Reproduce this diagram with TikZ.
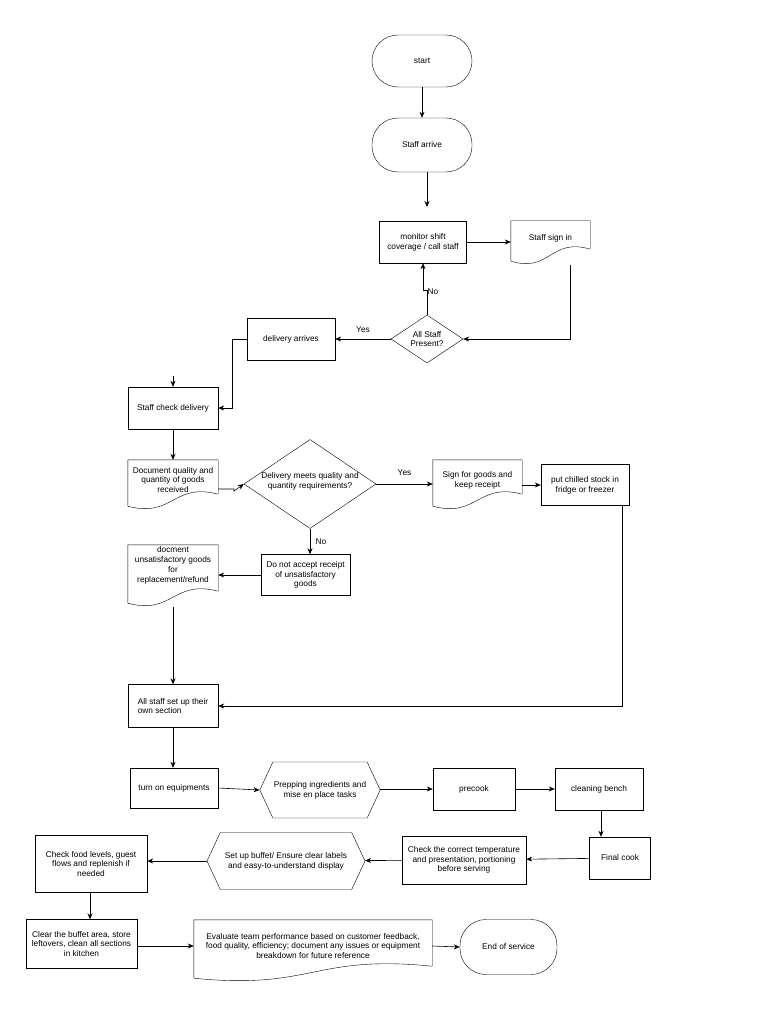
\documentclass[tikz,border=0pt]{standalone}
\usepackage{fontspec}
\setmainfont{Liberation Sans}
\usetikzlibrary{shapes.geometric,shapes.symbols,arrows.meta,calc}
\newcommand\docoutline[1]{%
  \draw ($(#1.south east)+(0,-6)$) -- (#1.north east) -- (#1.north west) -- ($(#1.south west)+(0,6)$)
   .. controls ($(#1.south)+(0,18)$) and ($(#1.south)+(0,-18)$) .. ($(#1.south east)+(0,-6)$);}
\begin{document}
\begin{tikzpicture}[x=1pt,y=-1pt,
  every node/.style={font=\fontsize{8.3}{9.8}\selectfont},
  box/.style={draw,rectangle,align=center,inner sep=2pt},
  pill/.style={draw,rectangle,rounded corners=26pt,align=center},
  doc/.style={rectangle,align=center,inner sep=1pt},
  hex/.style={draw,signal,signal to=east and west,signal pointer angle=130,align=center,inner sep=1pt},
  arr/.style={-{Stealth[length=6pt,width=5pt]},line width=0.6pt},
  lbl/.style={font=\fontsize{8.3}{9.8}\selectfont}]
\useasboundingbox (0,0) rectangle (768,1024);
\node[pill,minimum width=100,minimum height=52] (start) at (422,61) {start};
\node[pill,minimum width=100,minimum height=54] (arrive) at (422,145) {Staff arrive};
\node[box,minimum width=87,minimum height=42] (mon) at (423,242) {monitor shift\\coverage / call staff};
\node[doc,minimum width=79,minimum height=34] (sign) at (550.5,238) {Staff sign in};
\node[draw,diamond,minimum width=72,minimum height=48,inner sep=0pt] (d1) at (427,339) {};
\node[align=center] at (427,339) {All Staff\\Present?};
\node[box,minimum width=88,minimum height=42] (deliv) at (291,339) {delivery arrives};
\node[box,minimum width=90,minimum height=42] (check) at (173,408) {Staff check delivery};
\coordinate (chk0) at (173,376);
\node[doc,minimum width=90,minimum height=40] (docq) at (173,480) {Document quality and\\quantity of goods\\received};
\node[draw,diamond,minimum width=132,minimum height=89,inner sep=0pt] (d2) at (310,484) {};
\node[align=center] at (310,481) {Delivery meets quality and\\quantity requirements?};
\node[doc,minimum width=89,minimum height=40] (signg) at (477.5,480) {Sign for goods and\\keep receipt};
\node[box,minimum width=88,minimum height=41] (chill) at (585,485) {put chilled stock in\\fridge or freezer};
\node[box,minimum width=89,minimum height=41] (notacc) at (305.5,575) {Do not accept receipt\\of unsatisfactory\\goods};
\node[doc,minimum width=90,minimum height=52] (docm) at (173,571) {docment\\unsatisfactory goods\\for\\replacement/refund\\[3pt]};
\node[box,minimum width=90,minimum height=43,align=left] (setup) at (173,706) {All staff set up their\\own section};
\node[box,minimum width=88,minimum height=40] (turn) at (174,788) {turn on equipments};
\node[hex,minimum width=115,minimum height=56] (prep) at (320,790) {Prepping ingredients and\\mise en place tasks};
\node[box,minimum width=82,minimum height=42] (pre) at (474,789) {precook};
\node[box,minimum width=88,minimum height=42] (clean) at (599,789) {cleaning bench};
\node[box,minimum width=61,minimum height=42] (final) at (620,858) {Final cook};
\node[box,minimum width=124,minimum height=48] (temp) at (464,860) {Check the correct temperature\\and presentation, portioning\\before serving};
\node[hex,minimum width=158,minimum height=57] (buffet) at (286,861) {Set up buffet/ Ensure clear labels\\and easy-to-understand display};
\node[box,minimum width=112,minimum height=57] (food) at (91,864) {Check food levels, guest\\flows and replenish if\\needed};
\node[box,minimum width=111,minimum height=49] (clear) at (81.5,944) {Clear the buffet area, store\\leftovers, clean all sections\\in kitchen};
\node[doc,minimum width=238,minimum height=52] (eval) at (313,946) {Evaluate team performance based on customer feedback,\\food quality, efficiency; document any issues or equipment\\breakdown for future reference};
\node[pill,minimum width=97,minimum height=55] (end) at (508.5,947) {End of service};
\docoutline{sign}\docoutline{docq}\docoutline{signg}\docoutline{docm}\docoutline{eval}
\coordinate (a0) at (427,207);
\draw[arr] (start) -- (arrive);
\draw[arr] ([xshift=5pt]arrive.south) -- (a0);
\draw[arr] (mon) -- (sign.west |- mon);
\draw[arr] ([xshift=20pt,yshift=-10pt]sign.south) |- (d1.east);
\draw[arr] (d1.north) -- (427,290) -- (423,290) -- (mon.south);
\node[lbl] at (433,292) {No};
\draw[arr] (d1.west) -- (deliv.east) node[lbl,pos=0.5,above=3pt] {Yes};
\draw[arr] (deliv.west) -- (232,339) |- (check.east);
\draw[arr] (chk0) -- (check.north);
\draw[arr] (check) -- (docq.north);
\draw[arr] (docq.east |- 0,489) -- (234,489) -- (234,491) -- (d2.west);
\draw[arr] (d2.east) -- (signg.west |- d2.east) node[lbl,pos=0.5,above=5pt] {Yes};
\draw[arr] (signg.east |- chill) -- (chill.west);
\draw[arr] (d2.south) -- (notacc.north -| d2.south) node[lbl,pos=0.5,right=2pt] {No};
\draw[arr] (notacc.west) -- (docm.east |- notacc.west);
\draw[arr] ([yshift=-10pt]docm.south) -- (setup.north);
\draw[arr] ([xshift=37pt]chill.south) |- (setup.east);
\draw[arr] (setup) -- (turn.north -| setup);
\draw[arr] (turn.east) -- (prep.west);
\draw[arr] (prep.east |- pre.west) -- (pre.west);
\draw[arr] (pre) -- (clean);
\draw[arr] (clean.south -| 601,0) -- (final.north -| 601,0);
\draw[arr] (final) -- (temp);
\draw[arr] (temp) -- (buffet);
\draw[arr] (buffet.west) -- (food.east |- buffet.west);
\draw[arr] (food.south -| 90,0) -- (clear.north -| 90,0);
\draw[arr] (clear.east |- eval.west) -- (eval.west);
\draw[arr] (eval.east) -- (end.west);
\end{tikzpicture}
\end{document}
